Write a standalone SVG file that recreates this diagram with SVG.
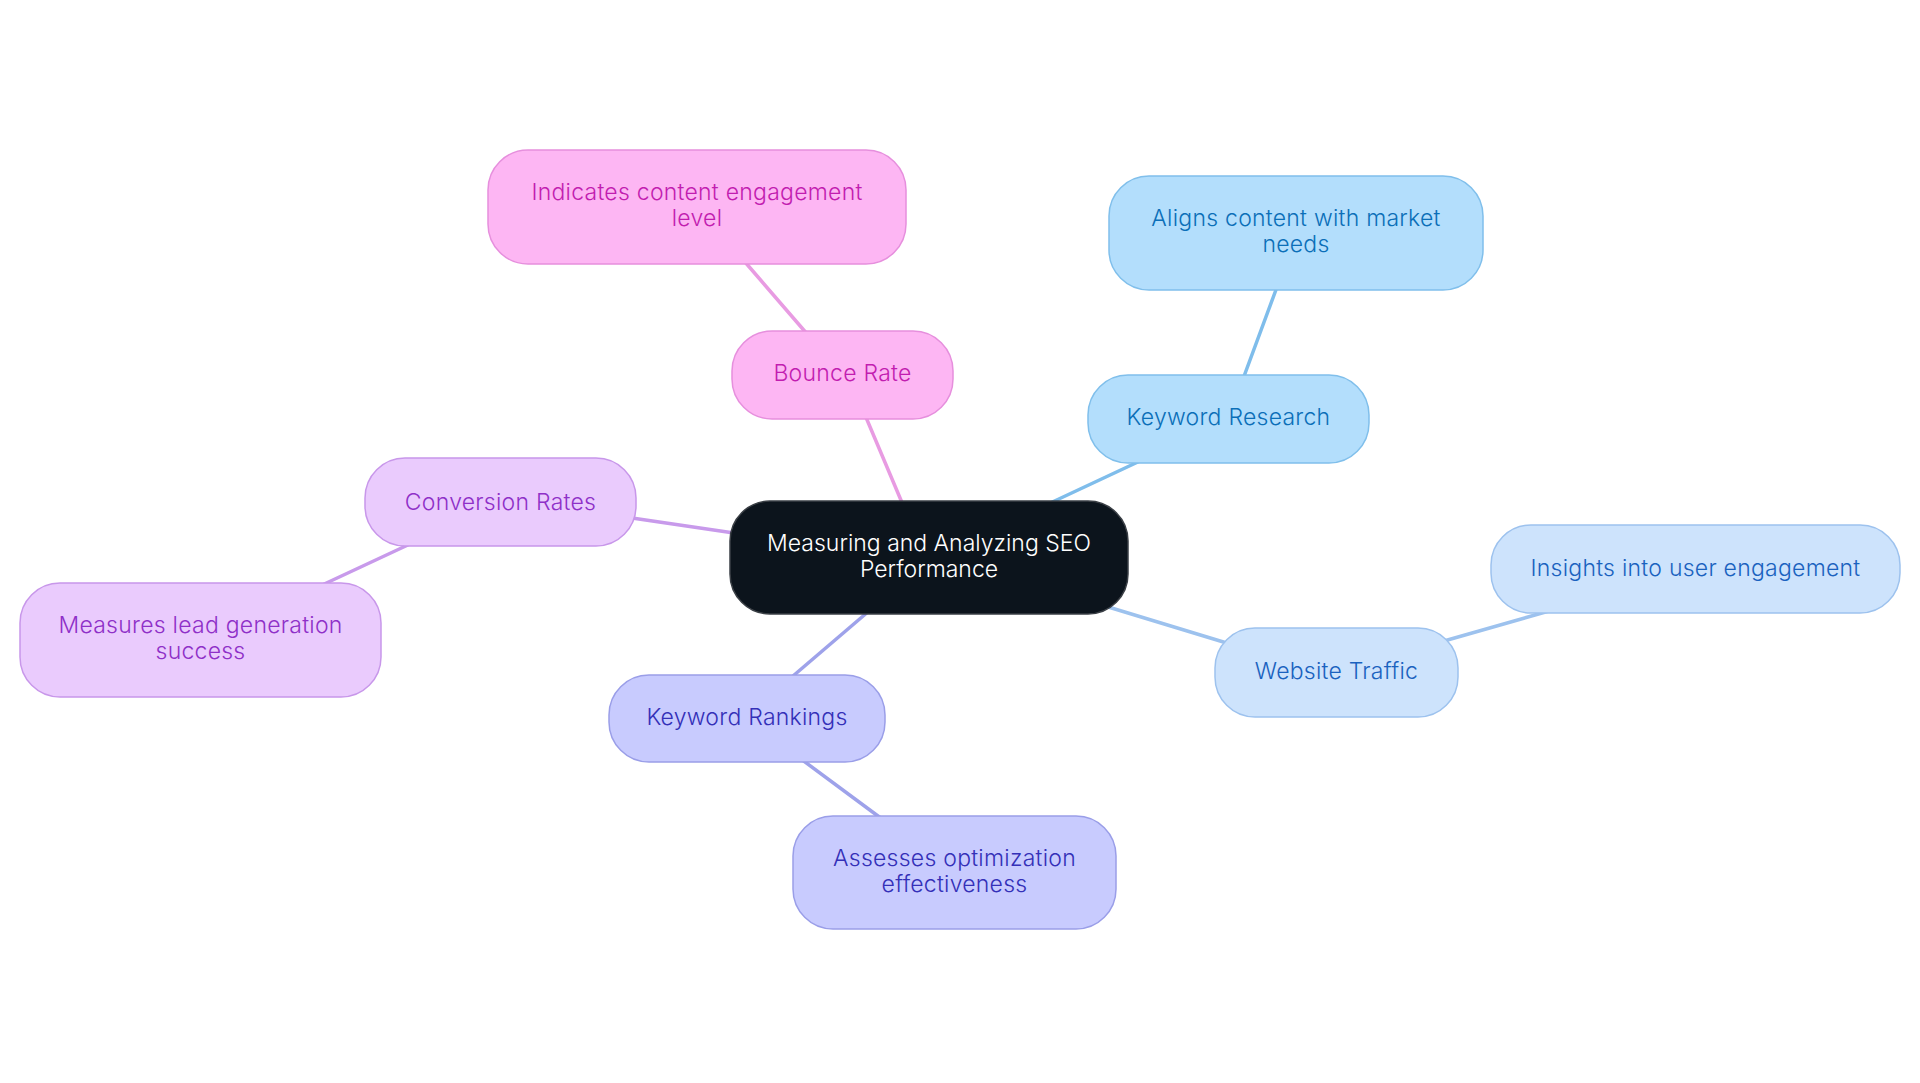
<svg xmlns="http://www.w3.org/2000/svg" width="1920" height="1083" viewBox="0 0 1920 1083">
<style>
text{font-family:Inter,"Noto Sans","Liberation Sans",sans-serif;font-size:23px;font-weight:300;letter-spacing:0.25px;text-anchor:middle}
#root text{letter-spacing:0;fill:#ffffff}
.e{stroke-width:3.5;fill:none;stroke-linecap:round}
.n{stroke-width:1.5}
.pk rect{fill:#FDB6F3;stroke:#E68FDD}.pk text{fill:#C21DB0}
.bl rect{fill:#B3DEFC;stroke:#80BFEB}.bl text{fill:#0B6FB8}
.lb rect{fill:#CDE3FC;stroke:#9DC2EE}.lb text{fill:#1A62BF}
.pu rect{fill:#EACBFD;stroke:#C897EA}.pu text{fill:#8F30C8}
.in rect{fill:#C8CBFE;stroke:#9A9EE8}.in text{fill:#3430B8}
</style>
<rect width="1920" height="1083" fill="#ffffff"/>
<g id="connectors">
<line class="e" x1="903" y1="505" x2="865" y2="415" stroke="#E89BE2"/>
<line class="e" x1="808" y1="335" x2="745" y2="262" stroke="#E89BE2"/>
<line class="e" x1="1046" y1="505" x2="1140" y2="461" stroke="#7FBDEB"/>
<line class="e" x1="1243" y1="379" x2="1277" y2="287" stroke="#7FBDEB"/>
<line class="e" x1="1105" y1="606" x2="1230" y2="644" stroke="#9DC2EE"/>
<line class="e" x1="1444" y1="641" x2="1549" y2="611" stroke="#9DC2EE"/>
<line class="e" x1="734" y1="533" x2="632" y2="518" stroke="#C89AEB"/>
<line class="e" x1="410" y1="544" x2="320" y2="586" stroke="#C89AEB"/>
<line class="e" x1="869" y1="611" x2="793" y2="676" stroke="#9EA2EA"/>
<line class="e" x1="801" y1="759" x2="882" y2="819" stroke="#9EA2EA"/>
</g>
<g id="root">
<rect x="730" y="501" width="398" height="113" rx="40" fill="#0C141C" stroke="#3a3f45" stroke-width="1.5"/>
<text x="929" y="551">Measuring and Analyzing SEO</text>
<text x="929" y="577">Performance</text>
</g>
<g id="bounce-rate" class="pk">
<rect class="n" x="732" y="331" width="221" height="88" rx="40"/>
<text x="842.5" y="381">Bounce Rate</text>
</g>
<g id="bounce-detail" class="pk">
<rect class="n" x="488" y="150" width="418" height="114" rx="40"/>
<text x="697" y="200">Indicates content engagement</text>
<text x="697" y="226">level</text>
</g>
<g id="keyword-research" class="bl">
<rect class="n" x="1088" y="375" width="281" height="88" rx="40"/>
<text x="1228.5" y="425">Keyword Research</text>
</g>
<g id="keyword-research-detail" class="bl">
<rect class="n" x="1109" y="176" width="374" height="114" rx="40"/>
<text x="1296" y="226">Aligns content with market</text>
<text x="1296" y="252">needs</text>
</g>
<g id="website-traffic" class="lb">
<rect class="n" x="1215" y="628" width="243" height="89" rx="40"/>
<text x="1336.5" y="679">Website Traffic</text>
</g>
<g id="website-traffic-detail" class="lb">
<rect class="n" x="1491" y="525" width="409" height="88" rx="40"/>
<text x="1695.5" y="576">Insights into user engagement</text>
</g>
<g id="conversion-rates" class="pu">
<rect class="n" x="365" y="458" width="271" height="88" rx="40"/>
<text x="500.5" y="510">Conversion Rates</text>
</g>
<g id="conversion-detail" class="pu">
<rect class="n" x="20" y="583" width="361" height="114" rx="40"/>
<text x="200.5" y="633">Measures lead generation</text>
<text x="200.5" y="659">success</text>
</g>
<g id="keyword-rankings" class="in">
<rect class="n" x="609" y="675" width="276" height="87" rx="40"/>
<text x="747" y="725">Keyword Rankings</text>
</g>
<g id="keyword-rankings-detail" class="in">
<rect class="n" x="793" y="816" width="323" height="113" rx="40"/>
<text x="954.5" y="866">Assesses optimization</text>
<text x="954.5" y="892">effectiveness</text>
</g>
</svg>
